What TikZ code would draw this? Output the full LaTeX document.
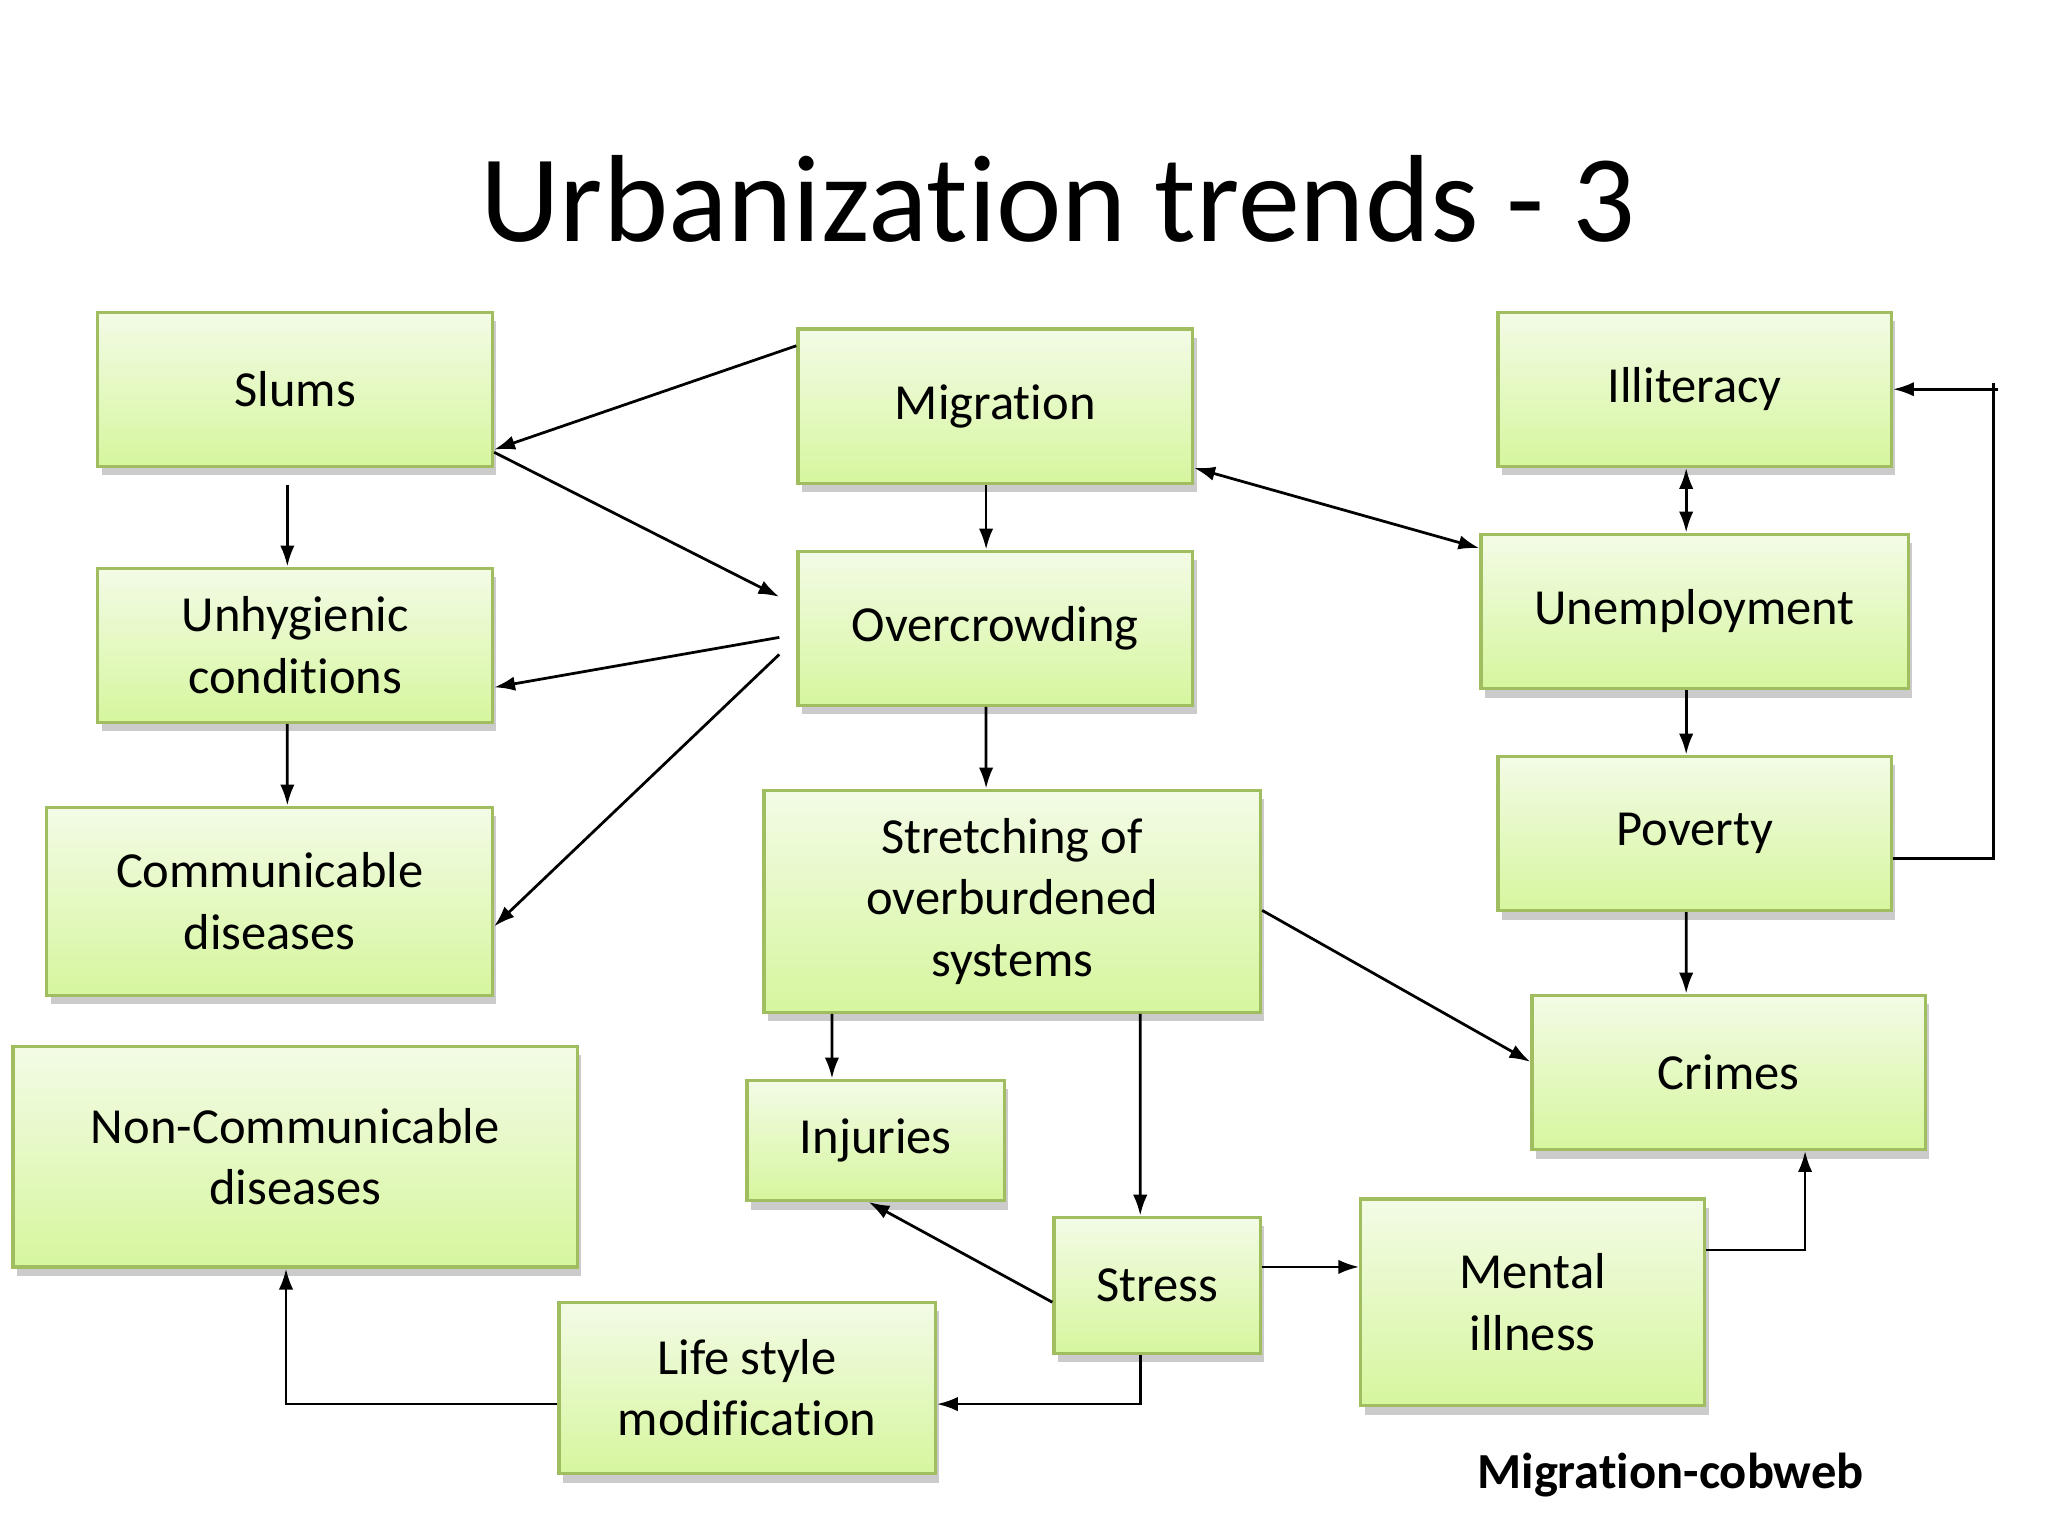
\documentclass[tikz,border=0pt]{standalone}
\usepackage{fontspec}
\setmainfont{Carlito}[Ligatures=NoCommon]
\usetikzlibrary{shadows,arrows.meta}
\definecolor{boxtop}{RGB}{243,251,230}
\definecolor{boxbot}{RGB}{214,246,158}
\definecolor{boxline}{RGB}{160,190,95}
\tikzset{
  box/.style={draw=boxline, line width=0.7pt, top color=boxtop, bottom color=boxbot,
    drop shadow={shadow xshift=0.03cm, shadow yshift=-0.07cm, fill=black!40, opacity=0.5},
    align=center, inner sep=0pt, text=black, font=\fontsize{11}{13.4}\selectfont},
  sz/.style 2 args={minimum width=#1cm, minimum height=#2cm},
  conn/.style={line width=0.6pt, -{Latex[length=1.6mm,width=1.1mm]}},
  biconn/.style={line width=0.6pt, {Latex[length=1.6mm,width=1.1mm]}-{Latex[length=1.6mm,width=1.1mm]}},
  plain/.style={line width=0.6pt},
}
\begin{document}
\begin{tikzpicture}[x=0.01cm, y=-0.01cm]
\useasboundingbox[fill=white] (0,0) rectangle (1568,1176);

\node[anchor=base, font=\fontsize{27}{32}\selectfont] (title) at (810,185) {Urbanization trends - 3};
\node[anchor=base, font=\fontsize{11}{13.4}\selectfont\bfseries] (cobweb) at (1279,1140) {Migration-cobweb};

\node[box, sz={3.02}{1.18}] (slums) at (226,298) {Slums};
\node[box, sz={3.02}{1.18}] (migration) at (762,311) {Migration};
\node[box, sz={3.01}{1.18}] (illiteracy) at (1297.5,298) {Illiteracy};
\node[box, sz={3.02}{1.18}] (unhyg) at (226,494) {Unhygienic\\conditions};
\node[box, sz={3.02}{1.18}] (overcrowding) at (762,481) {Overcrowding};
\node[box, sz={3.27}{1.18}] (unemployment) at (1297.5,468) {Unemployment};
\node[box, sz={3.41}{1.44}] (communicable) at (206.5,690) {Communicable\\diseases};
\node[box, sz={3.80}{1.70}] (stretching) at (775,690) {Stretching of\\overburdened\\systems};
\node[box, sz={3.01}{1.18}] (poverty) at (1297.5,638) {Poverty};
\node[box, sz={3.01}{1.18}] (crimes) at (1323.5,821) {Crimes};
\node[box, sz={4.32}{1.69}] (noncomm) at (226,885.5) {Non-Communicable\\diseases};
\node[box, sz={1.97}{0.92}] (injuries) at (670.5,873) {Injuries};
\node[box, sz={1.58}{1.04}] (stress) at (886,984) {Stress};
\node[box, sz={2.63}{1.58}] (mental) at (1173.5,997) {Mental\\illness};
\node[box, sz={2.88}{1.31}] (life) at (572,1062.5) {Life style\\modification};

\coordinate (fbk) at (1526,298);

% connectors
\draw[conn] ([yshift=-0.14cm]migration.north west) -- ([yshift=0.14cm]slums.south east);
\draw[conn] ([yshift=0.12cm]slums.south east) -- ([shift={(-0.13cm,0.24cm)}]overcrowding.west);
\draw[conn] ([shift={(-0.06cm,-0.13cm)}]slums.south) -- ([xshift=-0.06cm]unhyg.north);
\draw[conn] ([xshift=-0.07cm]migration.south) -- ([xshift=-0.07cm]overcrowding.north);
\draw[conn] ([shift={(-0.13cm,-0.07cm)}]overcrowding.west) -- ([yshift=0.28cm]unhyg.south east);
\draw[conn] ([shift={(-0.13cm,-0.20cm)}]overcrowding.west) -- ([yshift=0.54cm]communicable.south east);
\draw[conn] ([xshift=-0.06cm]unhyg.south) -- ([xshift=0.135cm]communicable.north);
\draw[conn] ([xshift=-0.07cm]overcrowding.south) -- ([xshift=-0.20cm]stretching.north);
\draw[biconn] ([yshift=0.13cm]migration.south east) -- ([yshift=-0.12cm]unemployment.north west);
\draw[biconn] ([xshift=-0.065cm]illiteracy.south) -- ([xshift=-0.065cm]unemployment.north);
\draw[conn] ([xshift=-0.065cm]unemployment.south) -- ([xshift=-0.065cm]poverty.north);
\draw[conn] ([xshift=-0.065cm]poverty.south) -- ([xshift=-0.325cm]crimes.north);
\draw[plain] ([yshift=-0.19cm]poverty.east) -| ([yshift=0.05cm]fbk);
\draw[conn] ([xshift=0.04cm]fbk) -- (illiteracy.east);
\draw[conn] ([yshift=-0.07cm]stretching.east) -- ([yshift=0.08cm]crimes.west);
\draw[conn] ([xshift=-1.38cm]stretching.south) -- ([xshift=-0.335cm]injuries.north);
\draw[conn] ([xshift=0.98cm]stretching.south) -- ([xshift=-0.13cm]stress.north);
\draw[conn] ([yshift=-0.13cm]stress.west) -- ([xshift=-0.055cm]injuries.south);
\draw[conn] ([yshift=0.14cm]stress.east) coordinate (s1) -- (s1 -| mental.west);
\draw[conn] ([yshift=0.40cm]mental.east) -| ([xshift=0.585cm]crimes.south);
\draw[conn] ([xshift=-0.13cm]stress.south) |- ([yshift=-0.125cm]life.east);
\draw[conn] ([yshift=-0.125cm]life.west) -| ([xshift=-0.07cm]noncomm.south);
\end{tikzpicture}
\end{document}
